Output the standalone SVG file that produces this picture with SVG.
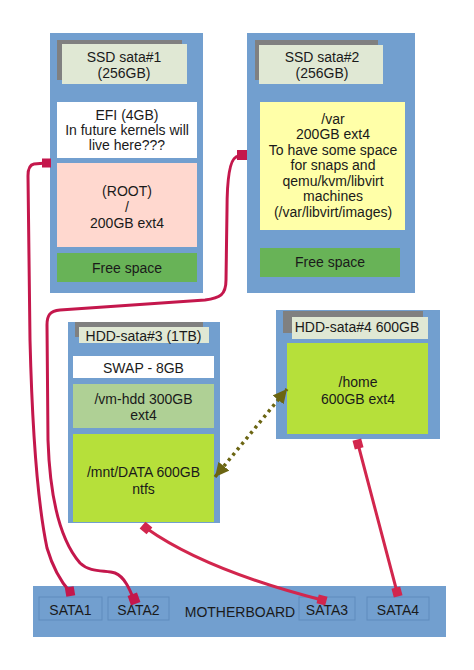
<svg xmlns="http://www.w3.org/2000/svg" width="474" height="670" viewBox="0 0 474 670">
<style>
  text { font-family: "Liberation Sans", Arial, sans-serif; font-size: 14px; fill: #1a1a1a; text-anchor: middle; }
  .disk { fill: #729fcf; }
  .shadow { fill: #808080; }
  .title { fill: #e0e8d4; }
  .white { fill: #ffffff; }
  .pink { fill: #ffd8cf; }
  .free { fill: #68b357; }
  .yellow { fill: #ffffa8; }
  .sage { fill: #afd095; }
  .lime { fill: #b6e03a; }
  .port { fill: #729fcf; stroke: #5f8bbd; stroke-width: 1; }
  .wire { fill: none; stroke: #c4174c; stroke-width: 3; stroke-linecap: round; stroke-linejoin: round; }
  .wire2 { fill: none; stroke: #d2264d; stroke-width: 3; stroke-linecap: round; }
  .plug { fill: #c4174c; }
  .plug2 { fill: #d2264d; }
  .dots { fill: none; stroke: #6b6512; stroke-width: 3.5; stroke-dasharray: 3 4; }
</style>
<defs>
  <marker id="arr" viewBox="0 0 10 10" refX="10" refY="5" markerWidth="4" markerHeight="4" orient="auto-start-reverse" markerUnits="strokeWidth">
    <path d="M0,0 L10,5 L0,10 Z" fill="#6b6512"/>
  </marker>
</defs>

<g id="ssd1">
  <rect class="disk" x="50" y="33" width="153" height="260"/>
  <rect class="shadow" x="57" y="40" width="125" height="40"/>
  <rect class="title" x="62" y="44" width="125" height="40"/>
  <text x="124" y="62">SSD sata#1</text>
  <text x="124" y="78">(256GB)</text>
  <rect class="white" x="57" y="102" width="140" height="56"/>
  <text x="127" y="120">EFI (4GB)</text>
  <text x="127" y="135">In future kernels will</text>
  <text x="127" y="150">live here???</text>
  <rect class="pink" x="57" y="163" width="140" height="84"/>
  <text x="127" y="196">(ROOT)</text>
  <text x="127" y="212">/</text>
  <text x="127" y="228">200GB ext4</text>
  <rect class="free" x="57" y="253" width="140" height="29"/>
  <text x="127" y="272.5">Free space</text>
</g>

<g id="ssd2">
  <rect class="disk" x="247" y="33" width="168" height="260"/>
  <rect class="shadow" x="255" y="40" width="123" height="40"/>
  <rect class="title" x="259" y="45" width="124" height="39"/>
  <text x="322" y="62">SSD sata#2</text>
  <text x="322" y="78">(256GB)</text>
  <rect class="yellow" x="260" y="102" width="145" height="128"/>
  <text x="333" y="123.5">/var</text>
  <text x="333" y="139">200GB ext4</text>
  <text x="333" y="154.5">To have some space</text>
  <text x="333" y="170">for snaps and</text>
  <text x="333" y="185.5">qemu/kvm/libvirt</text>
  <text x="333" y="201">machines</text>
  <text x="333" y="216.5">(/var/libvirt/images)</text>
  <rect class="free" x="260" y="248" width="140" height="29"/>
  <text x="330" y="267">Free space</text>
</g>

<g id="hdd3">
  <rect class="disk" x="68" y="322" width="152" height="201"/>
  <rect class="shadow" x="75" y="322" width="128" height="15"/>
  <rect class="title" x="79" y="327" width="130" height="16"/>
  <text x="143.5" y="341">HDD-sata#3 (1TB)</text>
  <rect class="white" x="73" y="356" width="141" height="22"/>
  <text x="143.5" y="372.5">SWAP - 8GB</text>
  <rect class="sage" x="73" y="384" width="141" height="44"/>
  <text x="143.5" y="403.5">/vm-hdd 300GB</text>
  <text x="143.5" y="420">ext4</text>
  <rect class="lime" x="73" y="434" width="141" height="88"/>
  <text x="143.5" y="477">/mnt/DATA 600GB</text>
  <text x="143.5" y="493.5">ntfs</text>
</g>

<g id="hdd4">
  <rect class="disk" x="276" y="310" width="164" height="129"/>
  <rect class="shadow" x="283" y="311" width="140" height="22"/>
  <rect class="title" x="292" y="317" width="136" height="22"/>
  <text x="357" y="332">HDD-sata#4 600GB</text>
  <rect class="lime" x="287" y="343" width="141" height="91"/>
  <text x="358" y="387">/home</text>
  <text x="358" y="404">600GB ext4</text>
</g>

<g id="motherboard">
  <rect class="disk" x="33" y="586" width="413" height="51"/>
  <text x="240" y="617">MOTHERBOARD</text>
  <g id="sata1"><rect class="port" x="39" y="597" width="63" height="23"/><text x="70.5" y="614.5">SATA1</text></g>
  <g id="sata2"><rect class="port" x="108" y="597" width="61" height="23"/><text x="138.5" y="614.5">SATA2</text></g>
  <g id="sata3"><rect class="port" x="299" y="597" width="56" height="23"/><text x="327" y="614.5">SATA3</text></g>
  <g id="sata4"><rect class="port" x="367" y="597" width="62" height="23"/><text x="398" y="614.5">SATA4</text></g>
</g>

<g id="connectors">
  <path class="wire" d="M46,163 L34,164 Q28,165 28,176 L30,340 C32,420 37,500 47,548 Q55,575 70,592"/>
  <rect class="plug" x="42" y="158.5" width="9" height="9"/>
  <rect class="plug" x="65.5" y="587" width="9" height="9" transform="rotate(-10 70 591.5)"/>

  <path class="wire" d="M242,155 L236,157 C230,160 227,180 227,210 L226,280 C226,295 220,298 205,300 L60,310 C50,311 47,315 47,325 L48,440 C50,500 60,540 80,563 C90,573 105,570 115,573 C125,577 130,590 134,600"/>
  <rect class="plug" x="237" y="150" width="10" height="10"/>
  <rect class="plug" x="129" y="594" width="10" height="10" transform="rotate(-20 134 599)"/>

  <path class="wire2" d="M146,528 Q205,570 322,600"/>
  <rect class="plug2" x="141.5" y="523.5" width="9" height="9" transform="rotate(40 146 528)"/>
  <rect class="plug2" x="317.5" y="595.5" width="9" height="9" transform="rotate(15 322 600)"/>

  <path class="wire2" d="M358,444 L397,592"/>
  <rect class="plug2" x="353.5" y="439.5" width="9" height="9" transform="rotate(-15 358 444)"/>
  <rect class="plug2" x="392.5" y="587.5" width="9" height="9" transform="rotate(-15 397 592)"/>

  <path class="dots" d="M215,477 L287,389" marker-start="url(#arr)" marker-end="url(#arr)"/>
</g>
</svg>
